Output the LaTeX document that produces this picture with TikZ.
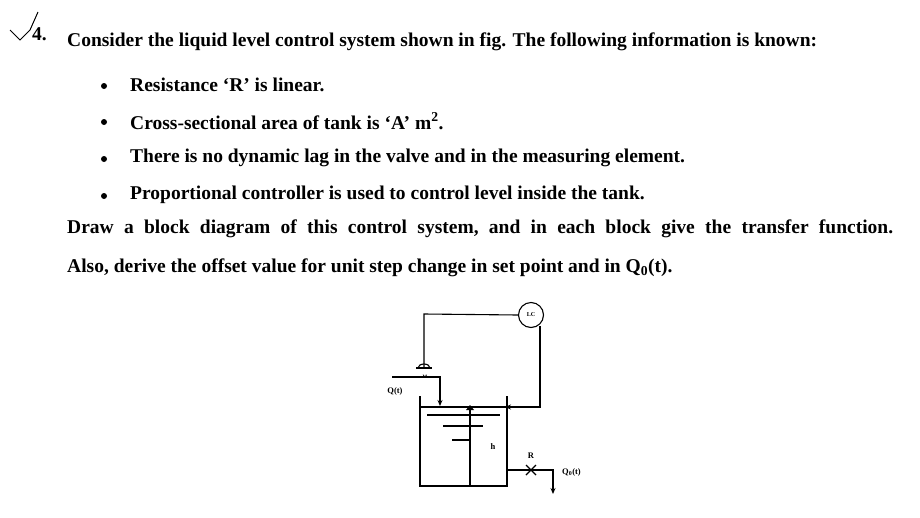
\documentclass[tikz,border=0pt]{standalone}
\usepackage{fontspec}
\usetikzlibrary{arrows.meta}
\setmainfont{Liberation Serif}
\begin{document}
\begin{tikzpicture}[x=1pt,y=-1pt,
  txt/.style={anchor=west,inner sep=0pt,font=\fontsize{19.5}{22}\selectfont\bfseries},
  bul/.style={circle,fill,inner sep=0pt,minimum size=6pt},
  small/.style={inner sep=0pt,font=\fontsize{8.5}{9}\selectfont\bfseries},
  ln/.style={line width=1.1pt},
  >={Stealth[length=6pt,width=5pt]}]
\useasboundingbox (0,0) rectangle (920,517);
\node[txt] (num) at (32,34) {4.};
\draw[line width=1pt] (10,30) -- (20,40) -- (30,30) -- (38,12);
\node[txt] (l1) at (67,42) {Consider the liquid level control system shown in fig. The following information is known:};
\foreach \y/\t [count=\i] in {85/{Resistance `R' is linear.},121/{Cross-sectional area of tank is `A' m\textsuperscript{2}.},158/{There is no dynamic lag in the valve and in the measuring element.},195/{Proportional controller is used to control level inside the tank.}}{
  \node[bul] (b\i) at (104,\y+1) {};
  \node[txt] (t\i) at (130,\y) {\t};
}
\node[txt] (l6) at (67,229) {\hbox to 826pt{Draw\hfill a\hfill block\hfill diagram\hfill of\hfill this\hfill control\hfill system,\hfill and\hfill in\hfill each\hfill block\hfill give\hfill the\hfill transfer\hfill function.}};
\node[txt] (l7) at (67,268) {Also, derive the offset value for unit step change in set point and in Q\textsubscript{0}(t).};
% diagram
\node[draw,circle,line width=1.1pt,minimum size=25pt,small,font=\fontsize{6}{7}\selectfont\bfseries] (lc) at (531,315) {LC};
\coordinate (c1) at (424,314);
\draw[ln] (lc.west) -- (c1) -- (424,368);
\draw[ln] (416,368) -- (432,368);
\draw[ln] (418,368) arc (180:360:6 and 4);
\node[small,font=\fontsize{5}{6}\selectfont\bfseries] (m) at (425,377) {M};
\coordinate (in0) at (392,377);
\coordinate (in1) at (440,377);
\coordinate (in2) at (440,406);
\draw[ln,->] (in0) -- (in1) -- (in2);
\node[small] (q) at (395,391) {Q(t)};
% tank
\draw[ln] (420,396) -- (420,486) -- (507,486) -- (507,396);
\draw[ln] (420,407) -- (507,407);
\coordinate (lm) at (540,326);
\draw[ln,->] (lm) |- (505,407);
\draw[ln] (427,415) -- (500,415);
\draw[ln] (443,426) -- (483,426);
\draw[ln] (452,440) -- (470,440);
\draw[ln] (470,410) -- (470,486);
\fill (466,410) -- (474,410) -- (470,405) -- cycle;
\node[small] (h) at (493,447) {h};
% outlet
\draw[ln,->] (507,470) -- (553,470) -- (553,494);
\draw[ln] (526,465) -- (536,475) (526,475) -- (536,465);
\node[small] (r) at (531,456) {R};
\node[small,anchor=west] (q0) at (562,472) {Q\textsubscript{0}(t)};
\end{tikzpicture}
\end{document}
